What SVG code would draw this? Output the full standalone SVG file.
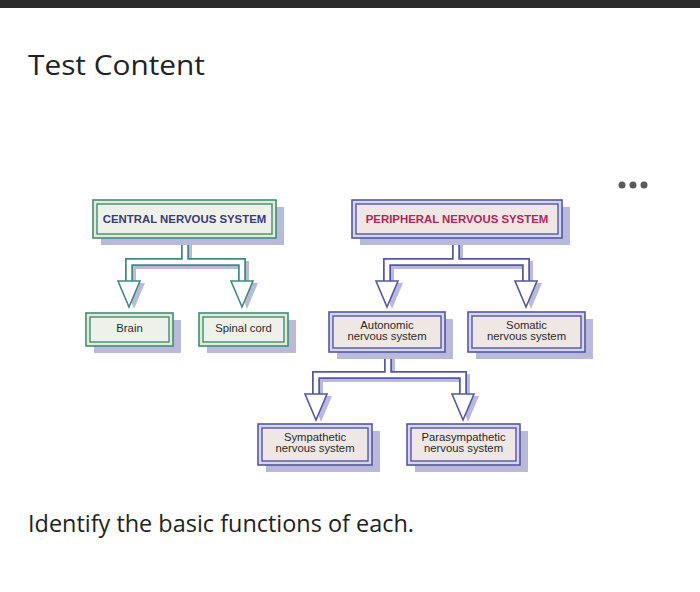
<svg xmlns="http://www.w3.org/2000/svg" width="700" height="592" viewBox="0 0 700 592">
<defs>
<style>
.shadow{fill:#b9b9da;}
.cOut{fill:#e4eecf;stroke:#3f8c7e;stroke-width:1.6;}
.cIn{fill:#eef1ea;stroke:#3f8c7e;stroke-width:1.4;}
.pOut{fill:#d6d6ef;stroke:#5656a6;stroke-width:1.6;}
.pIn{fill:#efe7e4;stroke:#5656a6;stroke-width:1.4;}
.lbl{font-family:"Liberation Sans",Arial,sans-serif;font-size:11.3px;fill:#2a2a2a;text-anchor:middle;}
.hdr{font-family:"Liberation Sans",Arial,sans-serif;font-size:11.4px;font-weight:bold;text-anchor:middle;}
.pipeShadow{fill:none;stroke:#b9b9da;stroke-width:8;}
.cPipe{fill:none;stroke:#3f8c7e;stroke-width:8;}
.pPipe{fill:none;stroke:#5656a6;stroke-width:8;}
.pipeIn{fill:none;stroke:#ffffff;stroke-width:4.5;}
.cHead{fill:#ffffff;stroke:#3f8c7e;stroke-width:1.6;stroke-linejoin:miter;}
.pHead{fill:#ffffff;stroke:#5656a6;stroke-width:1.6;stroke-linejoin:miter;}
.headShadow{fill:#b9b9da;}
</style>
</defs>
<rect x="0" y="0" width="700" height="592" fill="#ffffff"/>
<rect x="0" y="0" width="700" height="8" fill="#2b2b2b"/>
<text x="28" y="75" font-family="Open Sans, sans-serif" font-size="28" fill="#222222" textLength="177" lengthAdjust="spacingAndGlyphs">Test Content</text>
<g id="more-dots" fill="#5a5a5a">
<circle cx="622" cy="185" r="3.5"/>
<circle cx="633" cy="185" r="3.5"/>
<circle cx="644" cy="185" r="3.5"/>
</g>

<g id="connectors">
<!-- CNS connector -->
<path class="pipeShadow" d="M188,241 V265 M132,285 V265 H245 V285"/>
<polygon class="headShadow" points="124,283 145,283 134,309"/>
<polygon class="headShadow" points="237,283 258,283 247,309"/>
<path class="cPipe" d="M185,237 V262 M129,284 V262 H242 V284"/>
<path class="pipeIn" d="M185,236 V262 M129,285 V262 H242 V285"/>
<polygon class="cHead" points="118,281 140,281 129,307"/>
<polygon class="cHead" points="231,281 253,281 242,307"/>
<!-- PNS connector -->
<path class="pipeShadow" d="M459,241 V265 M390,285 V265 H529 V285"/>
<polygon class="headShadow" points="382,283 403,283 392,309"/>
<polygon class="headShadow" points="521,283 542,283 531,309"/>
<path class="pPipe" d="M456,237 V262 M387,284 V262 H526 V284"/>
<path class="pipeIn" d="M456,236 V262 M387,285 V262 H526 V285"/>
<polygon class="pHead" points="376,281 398,281 387,307"/>
<polygon class="pHead" points="515,281 537,281 526,307"/>
<!-- Autonomic connector -->
<path class="pipeShadow" d="M391,356 V378 M319,398 V378 H466 V398"/>
<polygon class="headShadow" points="311,396 332,396 321,422"/>
<polygon class="headShadow" points="458,396 479,396 468,422"/>
<path class="pPipe" d="M388,352 V375 M316,397 V375 H463 V397"/>
<path class="pipeIn" d="M388,351 V375 M316,398 V375 H463 V398"/>
<polygon class="pHead" points="305,394 327,394 316,420"/>
<polygon class="pHead" points="452,394 474,394 463,420"/>
</g>

<g id="cns">
<rect class="shadow" x="101" y="207" width="183" height="38"/>
<rect class="cOut" x="93" y="200" width="183" height="38"/>
<rect class="cIn" x="97" y="204" width="175" height="30"/>
<text class="hdr" x="184.5" y="223" fill="#3a3a7c">CENTRAL NERVOUS SYSTEM</text>
</g>
<g id="pns">
<rect class="shadow" x="360" y="207" width="210" height="38"/>
<rect class="pOut" x="352" y="200" width="210" height="38"/>
<rect class="pIn" x="356" y="204" width="202" height="30"/>
<text class="hdr" x="457" y="223" fill="#b3245a">PERIPHERAL NERVOUS SYSTEM</text>
</g>
<g id="brain">
<rect class="shadow" x="94" y="320" width="87" height="33"/>
<rect class="cOut" x="86" y="313" width="87" height="33"/>
<rect class="cIn" x="90" y="317" width="79" height="25"/>
<text class="lbl" x="129.5" y="332">Brain</text>
</g>
<g id="spinal-cord">
<rect class="shadow" x="207" y="320" width="89" height="33"/>
<rect class="cOut" x="199" y="313" width="89" height="33"/>
<rect class="cIn" x="203" y="317" width="81" height="25"/>
<text class="lbl" x="243.5" y="332">Spinal cord</text>
</g>
<g id="autonomic">
<rect class="shadow" x="337" y="319" width="116" height="40"/>
<rect class="pOut" x="329" y="312" width="116" height="40"/>
<rect class="pIn" x="333" y="316" width="108" height="32"/>
<text class="lbl" x="387" y="329">Autonomic</text>
<text class="lbl" x="387" y="340">nervous system</text>
</g>
<g id="somatic">
<rect class="shadow" x="476" y="319" width="117" height="40"/>
<rect class="pOut" x="468" y="312" width="117" height="40"/>
<rect class="pIn" x="472" y="316" width="109" height="32"/>
<text class="lbl" x="526.5" y="329">Somatic</text>
<text class="lbl" x="526.5" y="340">nervous system</text>
</g>
<g id="sympathetic">
<rect class="shadow" x="266" y="431" width="114" height="41"/>
<rect class="pOut" x="258" y="424" width="114" height="41"/>
<rect class="pIn" x="262" y="428" width="106" height="33"/>
<text class="lbl" x="315" y="441">Sympathetic</text>
<text class="lbl" x="315" y="452">nervous system</text>
</g>
<g id="parasympathetic">
<rect class="shadow" x="415" y="431" width="113" height="41"/>
<rect class="pOut" x="407" y="424" width="113" height="41"/>
<rect class="pIn" x="411" y="428" width="105" height="33"/>
<text class="lbl" x="463.5" y="441">Parasympathetic</text>
<text class="lbl" x="463.5" y="452">nervous system</text>
</g>

<text x="28" y="532" font-family="Open Sans, sans-serif" font-size="23" fill="#222222" textLength="386" lengthAdjust="spacingAndGlyphs">Identify the basic functions of each.</text>
</svg>
